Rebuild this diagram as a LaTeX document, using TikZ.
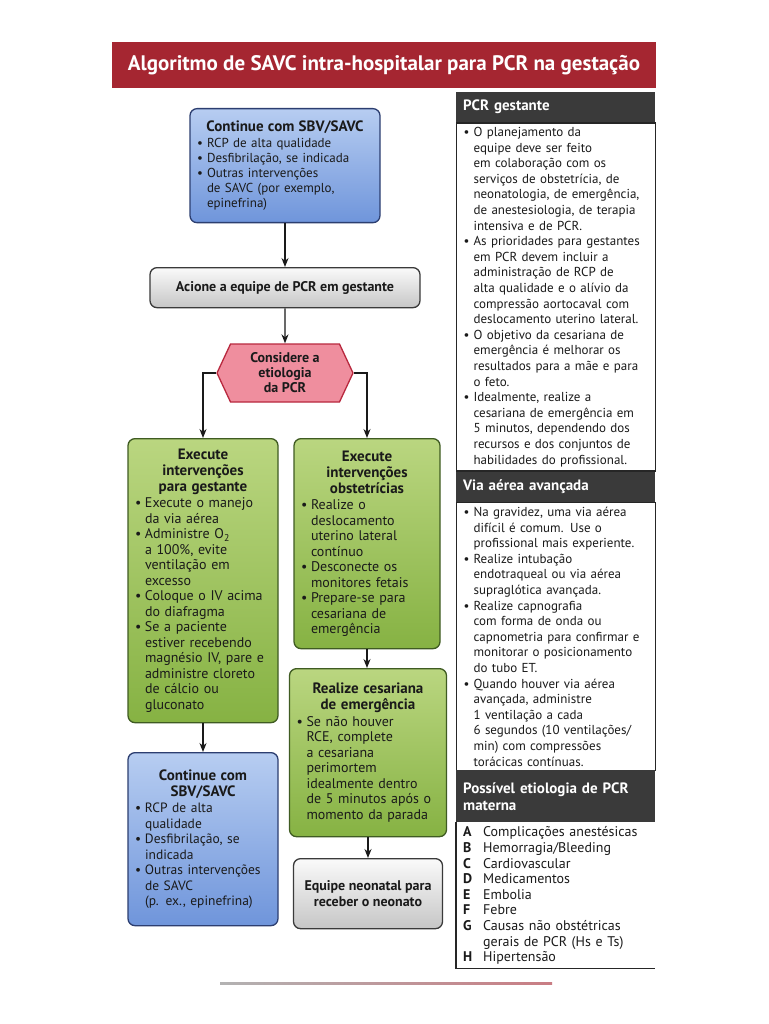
\documentclass[tikz,border=0pt]{standalone}
\usepackage{fontspec}
\setmainfont{PT Sans}
\usetikzlibrary{arrows.meta,positioning,shapes.symbols}
\definecolor{bannerred}{HTML}{A52631}
\definecolor{ink}{HTML}{1A1A1A}
\definecolor{navy}{HTML}{2C3E70}
\definecolor{blueT}{HTML}{B7CDF1}
\definecolor{blueB}{HTML}{6F95DB}
\definecolor{grayT}{HTML}{FAFAFA}
\definecolor{grayB}{HTML}{C6C6C6}
\definecolor{grayline}{HTML}{3A3A3A}
\definecolor{hexpink}{HTML}{EF8E9E}
\definecolor{hexred}{HTML}{B8283E}
\definecolor{greenT}{HTML}{BAD680}
\definecolor{greenB}{HTML}{86B243}
\definecolor{greenline}{HTML}{3F5B22}
\definecolor{hdrgray}{HTML}{3A3A3A}
\newcommand\bodyfont{\fontsize{13}{15}\selectfont}
\newcommand\greenfont{\fontsize{14}{15.5}\selectfont}
\newcommand\sidefont{\fontsize{13}{15.6}\selectfont}
\newcommand\boxtitle[1]{{\centering\bfseries\fontsize{15}{16}\selectfont #1\par}\vspace{1pt}}
\newcommand\bp{\makebox[10pt][l]{\textbullet}}
\newcommand\bc{\hspace*{10pt}}
\newcommand\etl[1]{\makebox[20pt][l]{\textbf{#1}}}
\tikzset{
  flowbox/.style={rectangle, rounded corners=7pt, line width=1.3pt,
    align=left, inner xsep=7pt, inner ysep=5pt, font=\bodyfont, text=ink},
  bluebox/.style={flowbox, draw=navy, top color=blueT, bottom color=blueB},
  graybox/.style={flowbox, draw=grayline, top color=grayT, bottom color=grayB,
    align=center, font=\bfseries\fontsize{14}{16}\selectfont},
  greenbox/.style={flowbox, draw=greenline, top color=greenT, bottom color=greenB,
    font=\greenfont},
  etiohex/.style={signal, signal to=west and east, signal pointer angle=130,
    draw=hexred, fill=hexpink, line width=1.3pt, align=center, text=ink,
    minimum width=136pt, minimum height=58pt, inner sep=2pt,
    font=\bfseries\fontsize{14}{15}\selectfont},
  flowarrow/.style={-{Stealth[length=9pt,width=7pt]}, line width=1.4pt, color=ink},
  sidehdr/.style={rectangle, fill=hdrgray, text=white, anchor=north west,
    align=left, text width=185pt, inner xsep=7pt, inner ysep=4pt,
    font=\bfseries\fontsize{15}{17}\selectfont},
  sidebody/.style={rectangle, anchor=north west, align=left, text=ink,
    text width=185pt, inner xsep=7pt, inner ysep=4pt, font=\sidefont},
  panelline/.style={line width=1.2pt, color=black!85},
}
\begin{document}
\begin{tikzpicture}[x=1pt, y=-1pt]
  \useasboundingbox[fill=white] (0,0) rectangle (768,1024);
  % title banner
  \node[rectangle, fill=bannerred, minimum width=544pt, minimum height=46pt,
    text=white, font=\bfseries\fontsize{21}{24}\selectfont] (banner) at (384,65)
    {Algoritmo de SAVC intra-hospitalar para PCR na gestação};
  % main flow
  \node[bluebox, anchor=north, text width=176pt, minimum height=114pt] (cont1) at (285,108)
    {\boxtitle{Continue com SBV/SAVC}
     \bp RCP de alta qualidade\\
     \bp Desfibrilação, se indicada\\
     \bp Outras intervenções\\
     \bc de SAVC (por exemplo,\\
     \bc epinefrina)};
  \node[graybox, anchor=north, minimum width=270pt, minimum height=40pt] (acione) at (285,267)
    {Acione a equipe de PCR em gestante};
  \node[etiohex] (etio) at (285,373) {Considere a\\etiologia\\da PCR};
  \node[greenbox, anchor=north, text width=136pt, minimum height=284pt] (gest) at (203,438)
    {\boxtitle{Execute\\intervenções\\para gestante}
     \bp Execute o manejo\\
     \bc da via aérea\\
     \bp Administre O\textsubscript{2}\\
     \bc a 100\%, evite\\
     \bc ventilação em\\
     \bc excesso\\
     \bp Coloque o IV acima\\
     \bc do diafragma\\
     \bp Se a paciente\\
     \bc estiver recebendo\\
     \bc magnésio IV, pare e\\
     \bc administre cloreto\\
     \bc de cálcio ou\\
     \bc gluconato};
  \node[greenbox, anchor=north, text width=132pt, minimum height=210pt] (obst) at (367,438)
    {\boxtitle{Execute\\intervenções\\obstetrícias}
     \bp Realize o\\
     \bc deslocamento\\
     \bc uterino lateral\\
     \bc contínuo\\
     \bp Desconecte os\\
     \bc monitores fetais\\
     \bp Prepare-se para\\
     \bc cesariana de\\
     \bc emergência};
  \node[bluebox, anchor=north, text width=136pt, minimum height=173pt,
    font=\fontsize{13.5}{15.5}\selectfont] (cont2) at (203,752)
    {\boxtitle{Continue com\\SBV/SAVC}
     \bp RCP de alta\\
     \bc qualidade\\
     \bp Desfibrilação, se\\
     \bc indicada\\
     \bp Outras intervenções\\
     \bc de SAVC\\
     \bc (p. ex., epinefrina)};
  \node[greenbox, anchor=north, text width=143pt, minimum height=168pt] (cesar) at (368,668)
    {\boxtitle{Realize cesariana\\de emergência}
     \bp Se não houver\\
     \bc RCE, complete\\
     \bc a cesariana\\
     \bc perimortem\\
     \bc idealmente dentro\\
     \bc de 5 minutos após o\\
     \bc momento da parada};
  \node[graybox, anchor=north, minimum width=149pt, minimum height=70pt] (neo) at (368,858)
    {Equipe neonatal para\\receber o neonato};
  \draw[flowarrow] (cont1) -- (acione);
  \draw[flowarrow] (acione) -- (etio);
  \draw[flowarrow] (etio.west) -| (gest.north);
  \draw[flowarrow] (etio.east) -| (obst.north);
  \draw[flowarrow] (gest) -- (cont2);
  \draw[flowarrow] (obst.south) -- (obst.south |- cesar.north);
  \draw[flowarrow] (cesar) -- (neo);
  % side panel
  \node[sidehdr, minimum height=30pt] (hdr1) at (456,92) {PCR gestante};
  \node[sidebody, draw=black!85, line width=1.2pt, minimum height=348pt] (body1) at (hdr1.south west)
    {\bp O planejamento da\\
     \bc equipe deve ser feito\\
     \bc em colaboração com os\\
     \bc serviços de obstetrícia, de\\
     \bc neonatologia, de emergência,\\
     \bc de anestesiologia, de terapia\\
     \bc intensiva e de PCR.\\
     \bp As prioridades para gestantes\\
     \bc em PCR devem incluir a\\
     \bc administração de RCP de\\
     \bc alta qualidade e o alívio da\\
     \bc compressão aortocaval com\\
     \bc deslocamento uterino lateral.\\
     \bp O objetivo da cesariana de\\
     \bc emergência é melhorar os\\
     \bc resultados para a mãe e para\\
     \bc o feto.\\
     \bp Idealmente, realize a\\
     \bc cesariana de emergência em\\
     \bc 5 minutos, dependendo dos\\
     \bc recursos e dos conjuntos de\\
     \bc habilidades do profissional.};
  \node[sidehdr, minimum height=30pt] (hdr2) at (body1.south west) {Via aérea avançada};
  \node[sidebody, draw=black!85, line width=1.2pt, minimum height=268pt] (body2) at (hdr2.south west)
    {\bp Na gravidez, uma via aérea\\
     \bc difícil é comum. Use o\\
     \bc profissional mais experiente.\\
     \bp Realize intubação\\
     \bc endotraqueal ou via aérea\\
     \bc supraglótica avançada.\\
     \bp Realize capnografia\\
     \bc com forma de onda ou\\
     \bc capnometria para confirmar e\\
     \bc monitorar o posicionamento\\
     \bc do tubo ET.\\
     \bp Quando houver via aérea\\
     \bc avançada, administre\\
     \bc 1 ventilação a cada\\
     \bc 6 segundos (10 ventilações/\\
     \bc min) com compressões\\
     \bc torácicas contínuas.};
  \node[sidehdr, minimum height=52pt] (hdr3) at (456,770) {Possível etiologia de PCR\\materna};
  \node[sidebody, minimum height=146pt, font=\fontsize{14}{15.6}\selectfont] (body3) at (hdr3.south west)
    {\etl{A}Complicações anestésicas\\
     \etl{B}Hemorragia/Bleeding\\
     \etl{C}Cardiovascular\\
     \etl{D}Medicamentos\\
     \etl{E}Embolia\\
     \etl{F}Febre\\
     \etl{G}Causas não obstétricas\\
     \hspace*{20pt}gerais de PCR (Hs e Ts)\\
     \etl{H}Hipertensão};
  \draw[panelline] (hdr3.south west) |- (body3.south east);
  % page edge line
  \fill[left color=black!30, right color=bannerred!60] (220,982) rectangle (552,984);
\end{tikzpicture}
\end{document}
